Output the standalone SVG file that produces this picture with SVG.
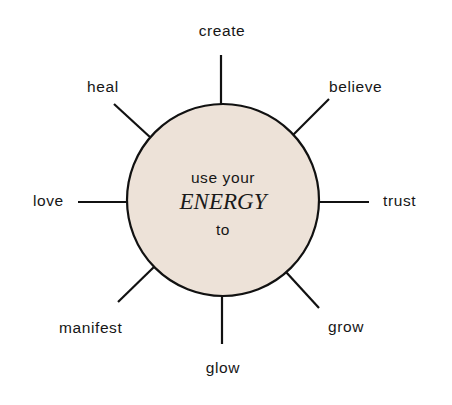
<svg xmlns="http://www.w3.org/2000/svg" width="452" height="405" viewBox="0 0 452 405">
<style>
.lbl{font-family:"Liberation Sans",Arial,sans-serif;font-size:15.5px;fill:#161616;letter-spacing:0.6px}
.ln{stroke:#111;stroke-width:2.2;stroke-linecap:butt;fill:none}
.hub{fill:#EDE2D8;stroke:#111;stroke-width:2.2}
</style>
<rect width="452" height="405" fill="#ffffff"/>
<g id="connectors">
<line class="ln" x1="221" y1="55" x2="221" y2="104"/>
<line class="ln" x1="329" y1="99" x2="292" y2="136"/>
<line class="ln" x1="114" y1="104" x2="151" y2="138"/>
<line class="ln" x1="78" y1="202" x2="127" y2="202"/>
<line class="ln" x1="319" y1="202" x2="369" y2="202"/>
<line class="ln" x1="118" y1="302" x2="155" y2="266"/>
<line class="ln" x1="286" y1="272" x2="319" y2="308"/>
<line class="ln" x1="222" y1="296" x2="222" y2="344"/>
</g>
<g id="hub">
<circle class="hub" cx="223" cy="200" r="96"/>
<text x="223" y="183" text-anchor="middle" class="lbl">use your</text>
<text x="223" y="209" text-anchor="middle" font-family="'Liberation Serif','Times New Roman',serif" font-style="italic" font-size="23" fill="#1a1a1a">ENERGY</text>
<text x="223" y="235" text-anchor="middle" class="lbl">to</text>
</g>
<g id="create"><text x="222" y="36" text-anchor="middle" class="lbl">create</text></g>
<g id="believe"><text x="329" y="92" class="lbl">believe</text></g>
<g id="heal"><text x="87" y="92" class="lbl">heal</text></g>
<g id="love"><text x="33" y="206" class="lbl">love</text></g>
<g id="trust"><text x="383" y="206" class="lbl">trust</text></g>
<g id="manifest"><text x="59" y="333" class="lbl">manifest</text></g>
<g id="grow"><text x="328" y="332" class="lbl">grow</text></g>
<g id="glow"><text x="223" y="373" text-anchor="middle" class="lbl">glow</text></g>
</svg>
